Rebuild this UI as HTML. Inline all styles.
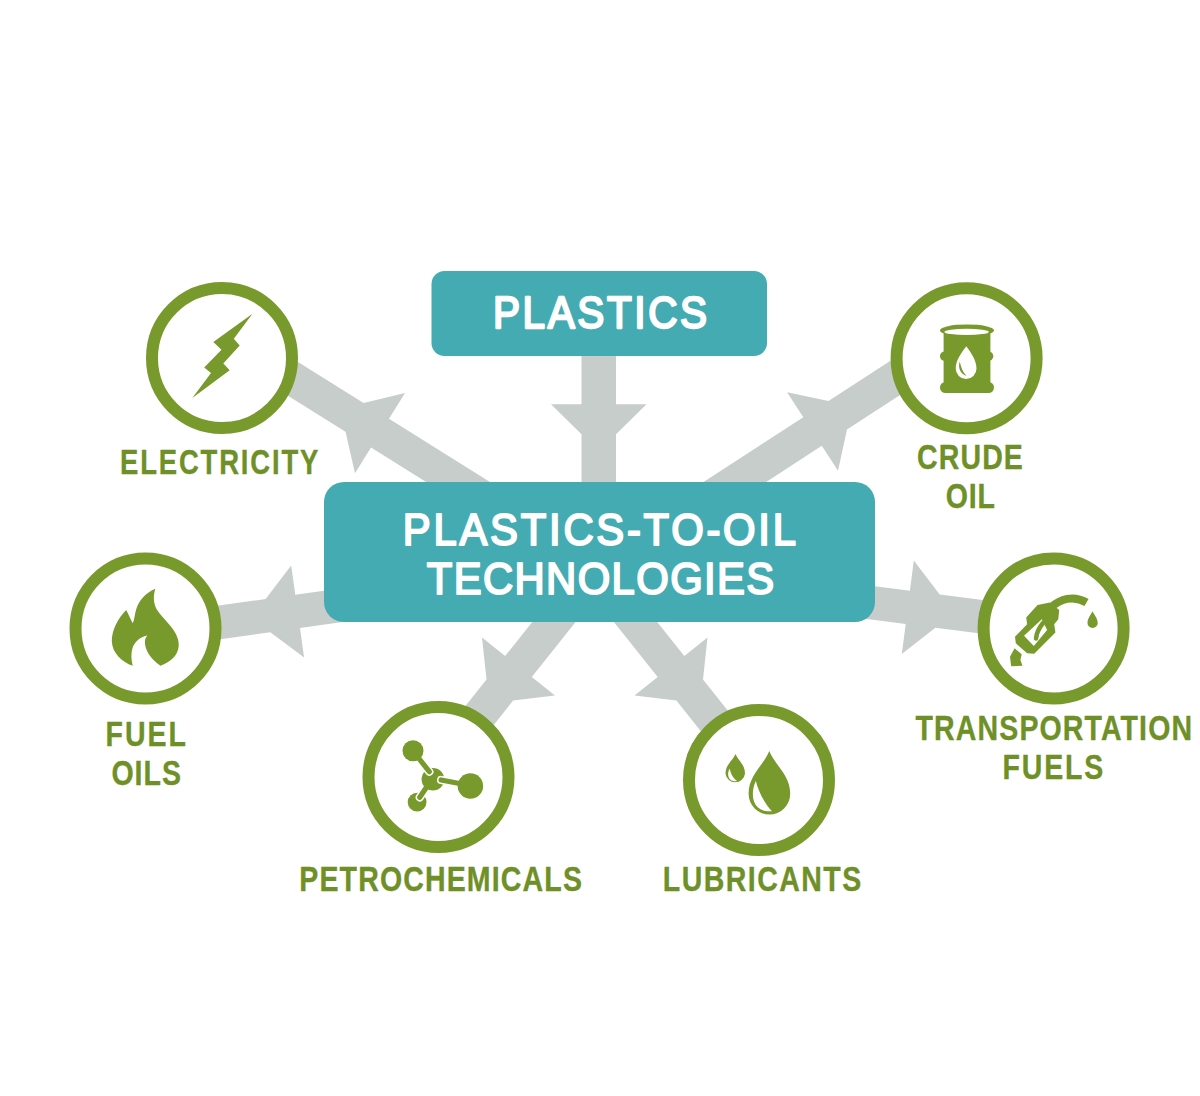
<!DOCTYPE html>
<html><head><meta charset="utf-8"><style>
html,body{margin:0;padding:0;background:#fff;width:1200px;height:1096px;overflow:hidden}
svg{display:block;font-family:"Liberation Sans",sans-serif}
</style></head><body>
<svg width="1200" height="1096" viewBox="0 0 1200 1096">
<polygon points="616,344.2 616,404.2 646.5,404.2 616,434.2 616,504.2 581.5,504.2 581.5,434.2 551,404.2 581.5,404.2 581.5,344.2" fill="#c7cdcb"/>
<polygon points="591.5,585.4 371,447.6 355,473.3 345.5,431.7 226.8,357.5 244.8,328.7 363.6,402.9 405,393.1 389,418.8 609.5,556.6" fill="#c7cdcb"/>
<polygon points="585.2,558.8 803.3,417.2 787.1,392.3 828.5,400.9 945.9,324.7 964.4,353.2 847,429.4 838,470.7 821.8,445.8 603.8,587.4" fill="#c7cdcb"/>
<polygon points="616.9,583.5 300,628 304.1,657.4 270.3,632.2 151.4,648.9 146.8,615.7 265.6,599 291.2,565.4 295.3,594.8 612.2,550.3" fill="#c7cdcb"/>
<polygon points="592.5,550 909.9,590.7 913.8,560.5 939.7,594.5 1058.7,609.7 1054.5,643 935.4,627.7 901.8,654.1 905.7,623.9 588.3,583.3" fill="#c7cdcb"/>
<polygon points="619,567.5 531.8,677.1 555,695.5 513.1,700.6 438.4,794.5 411.8,773.3 486.5,679.4 482,637.5 505.2,655.9 592.3,546.4" fill="#c7cdcb"/>
<polygon points="597.2,546.4 684.3,655.9 707.5,637.5 703,679.4 777.7,773.3 751.1,794.5 676.4,700.6 634.5,695.5 657.7,677.1 570.5,567.5" fill="#c7cdcb"/>
<rect x="431.5" y="271" width="335.5" height="85" rx="13" fill="#45abb3"/>
<rect x="324" y="482" width="551" height="140" rx="20" fill="#45abb3"/>
<circle cx="222" cy="358" r="70" fill="#fff" stroke="#789a2c" stroke-width="12"/>
<circle cx="966.6" cy="358.2" r="70" fill="#fff" stroke="#789a2c" stroke-width="12"/>
<circle cx="145.5" cy="628.4" r="70" fill="#fff" stroke="#789a2c" stroke-width="12"/>
<circle cx="1053.6" cy="628.4" r="70" fill="#fff" stroke="#789a2c" stroke-width="12"/>
<circle cx="438.5" cy="777" r="70" fill="#fff" stroke="#789a2c" stroke-width="12"/>
<circle cx="759" cy="780" r="70" fill="#fff" stroke="#789a2c" stroke-width="12"/>
<polygon points="252.5,313.7 213.3,342 221.5,349.7 204.2,367.5 211,373 192.3,398 229.7,370.2 223.3,363.4 239.7,345.6 233.8,338.8" fill="#789a2c"/>
<g fill="#789a2c">
<ellipse cx="967" cy="330.4" rx="27" ry="6"/>
<rect x="943.6" y="331" width="46.8" height="55"/>
<rect x="940" y="351.4" width="53.3" height="9.5" rx="4.7"/>
<rect x="940" y="382" width="54" height="11" rx="5.5"/>
</g>
<ellipse cx="966.6" cy="331.9" rx="22.2" ry="3.1" fill="#fff"/>
<path d="M966.3,346.3 C961.5,353 955.7,360 955.7,368.6 A10.4,10.4 0 0 0 976.5,368.6 C976.5,360 971,353 966.3,346.3 Z" fill="#fff"/>
<path d="M959.7,361.5 C957.8,368 960.5,374 966.5,376 C962.8,372.5 961.2,367.5 959.7,361.5 Z" fill="#789a2c"/>

<path d="M155.3,588.7 C153,596 153.5,603 156.5,609 C160,615 168,622 173.5,630 C177.5,636 179,641 178.7,646 C178,656 170,662 160.5,665.8 C152,660 146,652 145,644 C144.5,640 145.5,637.5 147.5,635.5 C141,636.5 135,641 132.5,648 C131,653 131,659 132.7,665.8 C122,662 112,653 111.8,641 C111.8,630 118,618 126.2,609.9 C128.5,614 130.5,619 132.7,623.3 C134.5,620 134.5,615 136,610 C138.5,601 145,593 155.3,588.7 Z" fill="#789a2c"/>
<polygon points="1015,636.7 1027.1,624.2 1026.2,617.5 1037.5,605 1050,602.5 1059.2,610 1058.3,619.2 1054.2,624.2 1055.4,632.5 1034.2,653.8 1027.1,653.3 1015.8,643.3" fill="#789a2c"/>
<polygon points="1024,635.7 1041.8,619.3 1047.1,630 1033.8,646" fill="#fff"/>
<polygon points="1010,656.7 1014.6,648.3 1021.7,654.2 1020.4,660 1022.5,665.8 1011.2,666.2" fill="#789a2c"/>
<path d="M1051.5,607 C1060,599.5 1073,594.5 1086.5,602.5" fill="none" stroke="#789a2c" stroke-width="8"/>
<path d="M1043,623 C1039,628 1036.5,633 1036,638.5" fill="none" stroke="#789a2c" stroke-width="4.5" stroke-linecap="round"/>
<path d="M1092.5,611.3 C1090,616 1087.5,619 1087.5,623 A5.1,5.1 0 0 0 1097.7,623 C1097.7,619 1095,616 1092.5,611.3 Z" fill="#789a2c"/>
<g fill="#789a2c">
<circle cx="413" cy="750.75" r="10.5"/>
<circle cx="432.9" cy="779.3" r="11.3"/>
<circle cx="470.4" cy="786" r="12.75"/>
<circle cx="417.1" cy="802.1" r="9.4"/>
</g>
<g stroke="#fff" stroke-width="8.2" stroke-linecap="round">
<line x1="427.3" y1="769.2" x2="429.3" y2="771.7"/>
<line x1="443.8" y1="780.5" x2="441.1" y2="780"/>
<line x1="421.2" y1="795.2" x2="419.75" y2="797.3"/>
</g>
<g stroke="#789a2c" stroke-width="5.2" stroke-linecap="round">
<line x1="417" y1="756" x2="429.3" y2="771.7"/>
<line x1="462" y1="784" x2="441.1" y2="780"/>
<line x1="428" y1="785" x2="419.75" y2="797.3"/>
</g>
<path d="M769.3,751.1 C763.1,766 748.6,775.1 748.6,793.8 A20.8,20.8 0 0 0 790.2,793.8 C790.2,775.1 775.5,766 769.3,751.1 Z" fill="#789a2c"/>
<path d="M735.5,754 C732.6,760.8 725.5,764.7 725.5,773.5 A9.8,9.8 0 0 0 745,773.5 C745,764.7 738.4,760.8 735.5,754 Z" fill="#789a2c"/>
<path d="M755.8,781 C751.3,791 751.8,802 758,807.5 C762,810.8 767,811.6 772,811.3 C767,806.5 759,794 755.8,781 Z" fill="#fff"/>
<path d="M729.6,768.5 C727.3,773 727.5,778 731.6,780.6 C733.5,781.5 735.5,781.5 737.1,781 C734.5,779.5 731,775 729.6,768.5 Z" fill="#fff"/>
<g transform="translate(219.2,473.8) scale(0.79,1)"><text x="0" y="0" text-anchor="middle" textLength="251" lengthAdjust="spacing" font-size="34.8" font-weight="bold" fill="#6f9027" stroke="#6f9027" stroke-width="0.35" stroke-linejoin="round">ELECTRICITY</text></g>
<g transform="translate(970,468.8) scale(0.82,1)"><text x="0" y="0" text-anchor="middle" textLength="129" lengthAdjust="spacing" font-size="34.8" font-weight="bold" fill="#6f9027" stroke="#6f9027" stroke-width="0.35" stroke-linejoin="round">CRUDE</text></g>
<g transform="translate(970.3,507.7) scale(0.82,1)"><text x="0" y="0" text-anchor="middle" textLength="60" lengthAdjust="spacing" font-size="34.8" font-weight="bold" fill="#6f9027" stroke="#6f9027" stroke-width="0.35" stroke-linejoin="round">OIL</text></g>
<g transform="translate(145.8,745.8) scale(0.82,1)"><text x="0" y="0" text-anchor="middle" textLength="98.2" lengthAdjust="spacing" font-size="34.8" font-weight="bold" fill="#6f9027" stroke="#6f9027" stroke-width="0.35" stroke-linejoin="round">FUEL</text></g>
<g transform="translate(146.2,785.3) scale(0.82,1)"><text x="0" y="0" text-anchor="middle" textLength="84.8" lengthAdjust="spacing" font-size="34.8" font-weight="bold" fill="#6f9027" stroke="#6f9027" stroke-width="0.35" stroke-linejoin="round">OILS</text></g>
<g transform="translate(1053.8,740.3) scale(0.82,1)"><text x="0" y="0" text-anchor="middle" textLength="337.2" lengthAdjust="spacing" font-size="34.8" font-weight="bold" fill="#6f9027" stroke="#6f9027" stroke-width="0.35" stroke-linejoin="round">TRANSPORTATION</text></g>
<g transform="translate(1052.9,779.3) scale(0.82,1)"><text x="0" y="0" text-anchor="middle" textLength="122.9" lengthAdjust="spacing" font-size="34.8" font-weight="bold" fill="#6f9027" stroke="#6f9027" stroke-width="0.35" stroke-linejoin="round">FUELS</text></g>
<g transform="translate(440.6,891.1) scale(0.82,1)"><text x="0" y="0" text-anchor="middle" textLength="344.8" lengthAdjust="spacing" font-size="34.8" font-weight="bold" fill="#6f9027" stroke="#6f9027" stroke-width="0.35" stroke-linejoin="round">PETROCHEMICALS</text></g>
<g transform="translate(762,890.6) scale(0.82,1)"><text x="0" y="0" text-anchor="middle" textLength="242.1" lengthAdjust="spacing" font-size="34.8" font-weight="bold" fill="#6f9027" stroke="#6f9027" stroke-width="0.35" stroke-linejoin="round">LUBRICANTS</text></g>
<g transform="translate(600,328.2) scale(0.9,1)"><text x="0" y="0" text-anchor="middle" textLength="237.8" lengthAdjust="spacing" font-size="45.0" font-weight="normal" fill="#fff" stroke="#fff" stroke-width="2.3" stroke-linejoin="round">PLASTICS</text></g>
<g transform="translate(599.4,544.5) scale(0.93,1)"><text x="0" y="0" text-anchor="middle" textLength="422.8" lengthAdjust="spacing" font-size="45.0" font-weight="normal" fill="#fff" stroke="#fff" stroke-width="2.0" stroke-linejoin="round">PLASTICS-TO-OIL</text></g>
<g transform="translate(600.5,593.5) scale(0.93,1)"><text x="0" y="0" text-anchor="middle" textLength="373.7" lengthAdjust="spacing" font-size="45.0" font-weight="normal" fill="#fff" stroke="#fff" stroke-width="2.0" stroke-linejoin="round">TECHNOLOGIES</text></g>
</svg>
</body></html>
